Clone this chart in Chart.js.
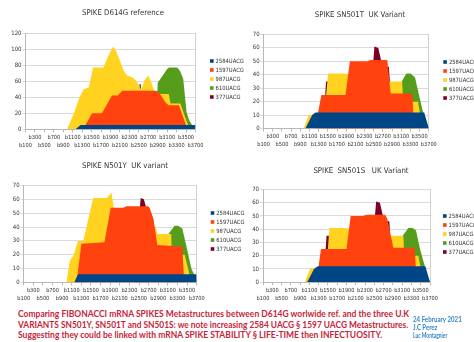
<!DOCTYPE html>
<html><head><meta charset="utf-8">
<script src="https://cdn.jsdelivr.net/npm/chart.js@4.4.1/dist/chart.umd.min.js"></script>
<style>
html,body{margin:0;padding:0;background:#fff;width:474px;height:342px;overflow:hidden;position:relative}
canvas{position:absolute}
.note{position:absolute;white-space:nowrap;transform-origin:0 0;line-height:1}
.red{font-family:Lato,'Open Sans',sans-serif;font-weight:700;color:#c7243a;font-size:9.6px}
.blue{font-family:Lato,'Open Sans',sans-serif;font-weight:700;color:#3584c8;font-size:6.8px}
</style></head>
<body>
<canvas id="c1"></canvas><canvas id="c2"></canvas><canvas id="c3"></canvas><canvas id="c4"></canvas>
<div class="note red" id="t1">Comparing FIBONACCI mRNA SPIKES Metastructures between D614G worlwide ref. and the three U.K</div>
<div class="note red" id="t2">VARIANTS SN501Y, SN501T and SN501S: we note increasing 2584 UACG § 1597 UACG Metastructures.</div>
<div class="note red" id="t3">Suggesting they could be linked with mRNA SPIKE STABILITY § LIFE-TIME then INFECTUOSITY.</div>
<div class="note blue" id="s1">24 February 2021</div>
<div class="note blue" id="s2">J.C Perez</div>
<div class="note blue" id="s3">Luc Montagnier</div>
<script>
// ---------- data ----------
const seriesNames = ['2584UACG','1597UACG','987UACG','610UACG','377UACG'];
const seriesColors = ['#004586','#ff420e','#ffd320','#579d1c','#7e0021'];
const xTickValues = [100,300,500,700,900,1100,1300,1500,1700,1900,2100,2300,2500,2700,2900,3100,3300,3500,3700];
const xTickLabels = ['b100','b300','b500','b700','b900','b1100','b1300','b1500','b1700','b1900','b2100','b2300','b2500','b2700','b2900','b3100','b3300','b3500','b3700'];

// SPIKE D614G reference
const d614g_2584 = [[1160,0],[1265,5.5],[3700,5.5]];
const d614g_1597 = [[1320,0],[1510,20],[1720,20],[1930,42],[2050,42],[2150,48],[2880,48],[2960,43],[3070,33],[3130,30],[3350,30],[3530,0]];
const d614g_987 = [[980,0],[1125,20],[1230,38],[1330,50],[1440,52],[1530,77],[1750,77],[1880,95],[1950,103],[2000,100],[2040,94],[2110,84],[2180,73],[2250,67],[2360,65],[2430,61],[2500,55],[2550,49],[2620,61],[2700,67],[2760,59],[2830,47],[2890,44],[3135,44],[3170,32],[3380,32],[3480,15],[3560,3],[3600,0]];
const d614g_610 = [[2860,0],[2900,58],[3100,75],[3140,77],[3310,77],[3370,73],[3440,63],[3510,22],[3560,12],[3630,5],[3700,2]];
const d614g_377 = [[2490,0],[2515,56],[2540,56],[2560,0]];

// SPIKE SN501T UK Variant
const sn501t_2584 = [[1010,0],[1160,10],[1230,12],[3600,12],[3700,0]];
const sn501t_1597 = [[1220,0],[1360,25],[1885,25],[1980,50],[2360,50],[2430,51],[2795,51],[2870,26],[3340,26],[3380,0]];
const sn501t_987 = [[975,0],[1085,10],[1350,11],[1460,24],[1505,41],[1850,41],[2800,35],[3120,35],[3140,20],[3465,20],[3560,0]];
const sn501t_610 = [[3080,0],[3110,35],[3210,41],[3300,41],[3400,38],[3560,14],[3700,0]];
const sn501t_377 = [[1400,0],[1460,35],[1510,35],[1850,35],[2480,45],[2515,61],[2600,60],[2665,50],[2790,46],[2830,46],[2860,30],[2900,0]];

// SPIKE N501Y UK variant
const n501y_2584 = [[1150,0],[1230,6],[3700,6]];
const n501y_1597 = [[1200,0],[1300,28],[1780,29],[1910,54],[2170,54],[2240,55],[2690,55],[2720,54],[2800,46],[2880,27],[3400,26],[3440,0]];
const n501y_987 = [[990,0],[1060,16],[1130,19],[1230,30],[1340,30],[1545,61],[1835,61],[1925,65],[1975,54],[2850,40],[2880,35],[3170,35],[3180,20],[3450,20],[3590,0]];
const n501y_610 = [[3080,0],[3110,35],[3240,41],[3310,41],[3400,39],[3480,27],[3590,10],[3700,2]];
const n501y_377 = [[2400,0],[2520,55],[2535,61],[2600,60],[2650,54],[2700,0]];

// SPIKE SN501S UK Variant
const sn501s_2584 = [[1050,0],[1200,10],[1280,12],[3600,12],[3700,0]];
const sn501s_1597 = [[1250,0],[1350,25],[1900,25],[1990,50],[2260,50],[2330,51],[2730,51],[2780,48],[2910,26],[3370,26],[3410,0]];
const sn501s_987 = [[1000,0],[1110,10],[1380,12],[1500,25],[1530,41],[1870,41],[2874,35],[3126,35],[3145,20],[3450,20],[3557,0]];
const sn501s_610 = [[3080,0],[3111,35],[3233,41],[3327,41],[3399,39],[3485,25],[3629,7],[3700,0]];
const sn501s_377 = [[1400,0],[1470,35],[1520,35],[1870,35],[2500,45],[2540,61],[2620,60],[2680,51],[2700,47],[2770,46],[2824,46],[2850,30],[2900,0]];

// ---------- layout ----------
Chart.defaults.animation = false;
const FAM = "'Liberation Sans Narrow','DejaVu Sans Condensed','Liberation Sans',sans-serif";
const TXT = '#333333';

const panels = [
 {id:'c1', cx:122.5, W:290, H:152, top:0, area:{l:25,r:195,t:33,b:129.3}, boxX:209.5, legendY:79, titleY:12.8,
  title:'SPIKE D614G reference', series:[d614g_2584,d614g_1597,d614g_987,d614g_610,d614g_377], yMax:120, yStep:20},
 {id:'c2', cx:359.7, W:228, H:152, top:0, area:{l:263.3,r:428.5,t:34.5,b:128.5}, boxX:443, legendY:80, titleY:15,
  title:'SPIKE SN501T  UK Variant', series:[sn501t_2584,sn501t_1597,sn501t_987,sn501t_610,sn501t_377], yMax:70, yStep:10},
 {id:'c3', cx:125.3, W:290, H:158, top:150, area:{l:24,r:197,t:185.5,b:282.5}, boxX:211, legendY:231, titleY:165.5,
  title:'SPIKE N501Y  UK variant', series:[n501y_2584,n501y_1597,n501y_987,n501y_610,n501y_377], yMax:70, yStep:10},
 {id:'c4', cx:361, W:226, H:158, top:150, area:{l:263,r:430,t:189.5,b:282.2}, boxX:443, legendY:234, titleY:170.5,
  title:'SPIKE  SN501S   UK Variant', series:[sn501s_2584,sn501s_1597,sn501s_987,sn501s_610,sn501s_377], yMax:70, yStep:10}
];

// series key drawn as a column of small squares with their dataset labels
const seriesKey = {
  id:'seriesKey',
  afterDraw(chart, args, o){
    const ctx = chart.ctx;
    const ds = chart.data.datasets;
    ctx.save();
    ctx.font = o.size + 'px ' + FAM;
    ctx.textAlign = 'left';
    ctx.textBaseline = 'middle';
    const y0 = o.y - (ds.length - 1) / 2 * o.step;
    ds.forEach((d, i) => {
      const y = y0 + i * o.step;
      ctx.fillStyle = d.backgroundColor;
      ctx.fillRect(o.x, y - o.box / 2, o.box, o.box);
      ctx.fillStyle = o.color;
      ctx.fillText(d.label, o.x + o.box + o.gap, y);
    });
    ctx.restore();
  }
};

function build(p){
  const left = p.cx - p.W/2;
  const cv = document.getElementById(p.id);
  cv.width = p.W; cv.height = p.H;
  cv.style.left = left + 'px'; cv.style.top = p.top + 'px';
  cv.style.width = p.W + 'px'; cv.style.height = p.H + 'px';
  const L = {l:p.area.l-left, r:p.area.r-left, t:p.area.t-p.top, b:p.area.b-p.top};
  const st = {yw:L.l, y2w:p.W - L.r, xh:p.H-L.b};
  const TS = 7.8, lh = TS*1.2;
  const padTop = (p.titleY - p.top) - lh/2;
  const datasets = p.series.map((pts,i)=>({
    label: seriesNames[i],
    data: pts.map(q=>({x:q[0], y:q[1]})),
    backgroundColor: seriesColors[i], borderColor: seriesColors[i],
    borderWidth: 0, pointRadius: 0, pointHoverRadius: 0, fill: 'origin', tension: 0
  }));
  const chart = new Chart(cv, {
    type:'line',
    data:{datasets},
    plugins:[seriesKey],
    options:{
      responsive:false, animation:false, events:[],
      layout:{padding:0},
      plugins:{
        tooltip:{enabled:false},
        legend:{display:false},
        seriesKey:{x:p.boxX - left, y:p.legendY - p.top, step:9, box:3.6, gap:2, size:5.8, color:TXT},
        title:{display:true, text:p.title, color:TXT, font:{family:FAM, size:TS, weight:'normal'},
               padding:{top:padTop, bottom:L.t - padTop - lh}}
      },
      scales:{
        x:{type:'linear', min:100, max:3700,
           afterBuildTicks:s=>{ s.ticks = xTickValues.map(v=>({value:v})); },
           afterFit:s=>{ s.height = st.xh; },
           grid:{display:true, drawOnChartArea:false, drawTicks:true, tickLength:3, color:'#b8b8b8'},
           border:{display:true, color:'#b8b8b8'},
           ticks:{autoSkip:false, maxRotation:0, minRotation:0, padding:1, color:TXT,
                  font:{family:FAM, size:5.6, lineHeight:1.42},
                  callback:(v)=>{ const k = xTickValues.indexOf(v); const s = xTickLabels[k]; return k % 2 ? [s,''] : ['',s]; }}},
        y:{min:0, max:p.yMax,
           afterFit:s=>{ s.width = st.yw; },
           grid:{color:'#dadada', tickLength:3, drawTicks:true},
           border:{display:true, color:'#b8b8b8'},
           ticks:{stepSize:p.yStep, padding:1, color:TXT, font:{family:FAM, size:6}}},
        y2:{position:'right', display:true, min:0, max:1,
           afterFit:s=>{ s.width = st.y2w; },
           grid:{display:false}, ticks:{display:false},
           border:{display:true, color:'#d0d0d0'}}
      }
    }
  });
  for(let k=0;k<3;k++){
    const ca = chart.chartArea;
    st.y2w = Math.max(0, st.y2w + (ca.right - L.r));
    const tp = chart.options.plugins.title.padding;
    chart.options.plugins.title.padding = {top:padTop, bottom:tp.bottom + (L.t - ca.top)};
    chart.update('none');
  }
  return chart;
}
panels.forEach(build);

// ---------- caption ----------
function place(id, x, yc, w){
  const el = document.getElementById(id);
  el.style.left = x + 'px';
  const h = el.offsetHeight;
  el.style.top = (yc - h/2) + 'px';
  const r = el.scrollWidth || el.offsetWidth;
  el.style.transform = 'scaleX(' + (w / r) + ')';
}
place('t1', 18, 314, 391);
place('t2', 18, 324.5, 390);
place('t3', 18, 335, 364);
place('s1', 413, 319, 49);
place('s2', 413, 327.3, 24);
place('s3', 413, 335, 34);
</script>
</body></html>
